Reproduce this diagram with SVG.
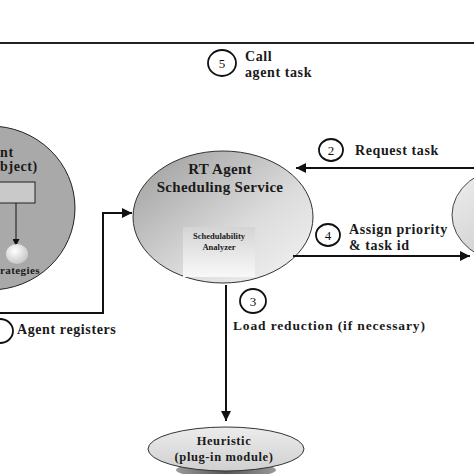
<svg xmlns="http://www.w3.org/2000/svg" width="474" height="474" viewBox="0 0 474 474">
<defs>
<style>
.t{font-family:"Liberation Serif","Times New Roman",serif;font-weight:bold;fill:#1a1a1a}
.sp{letter-spacing:0.6px}
.ln{fill:none;stroke:#111;stroke-width:2}
.num{fill:none;stroke:#111;stroke-width:1.8}
.nt{font-family:"Liberation Serif","Times New Roman",serif;font-size:13px;fill:#111;text-anchor:middle}
</style>
<linearGradient id="gRT" x1="0" y1="0" x2="1" y2="1">
<stop offset="0" stop-color="#9a9a9a"/>
<stop offset="0.6" stop-color="#dcdcdc"/>
<stop offset="1" stop-color="#f4f4f4"/>
</linearGradient>
<linearGradient id="gBox" x1="0" y1="0" x2="0" y2="1">
<stop offset="0" stop-color="#d4d4d4"/>
<stop offset="1" stop-color="#f8f8f8"/>
</linearGradient>
<linearGradient id="gR" x1="0" y1="0" x2="1" y2="1">
<stop offset="0" stop-color="#f0f0f0"/>
<stop offset="1" stop-color="#bdbdbd"/>
</linearGradient>
<linearGradient id="gH" x1="0" y1="0" x2="0" y2="1">
<stop offset="0" stop-color="#ececec"/>
<stop offset="1" stop-color="#d0d0d0"/>
</linearGradient>
<linearGradient id="gShadow" x1="0" y1="0" x2="1" y2="0">
<stop offset="0" stop-color="#9a9a9a"/>
<stop offset="0.5" stop-color="#555"/>
<stop offset="1" stop-color="#9a9a9a"/>
</linearGradient>
<radialGradient id="gBall" cx="0.4" cy="0.35" r="0.7">
<stop offset="0" stop-color="#ffffff"/>
<stop offset="1" stop-color="#c4c4c4"/>
</radialGradient>
<marker id="ah" viewBox="0 0 10 10" refX="10" refY="5" markerWidth="10" markerHeight="10" markerUnits="userSpaceOnUse" orient="auto">
<path d="M0,0 L10,5 L0,10 z" fill="#111"/>
</marker>
<marker id="ahs" viewBox="0 0 10 10" refX="10" refY="5" markerWidth="7" markerHeight="7" markerUnits="userSpaceOnUse" orient="auto">
<path d="M0,0 L10,5 L0,10 z" fill="#111"/>
</marker>
</defs>
<rect width="474" height="474" fill="#fff"/>

<g id="agent">
<ellipse cx="-10" cy="208" rx="85" ry="82" fill="#a9a9a9" stroke="#222" stroke-width="1"/>
<text class="t sp" x="0" y="157" font-size="14">nt</text>
<text class="t sp" x="0" y="171" font-size="14">bject)</text>
<rect x="-5" y="182" width="40" height="21" fill="#c9c9c9" stroke="#222" stroke-width="1"/>
<line x1="16" y1="203" x2="16" y2="246" stroke="#111" stroke-width="1" marker-end="url(#ahs)"/>
<ellipse cx="17" cy="254" rx="11" ry="10" fill="url(#gBall)"/>
<text class="t" x="0" y="274" font-size="11" letter-spacing="0.4">rategies</text>
</g>

<g id="rt">
<ellipse cx="223" cy="217" rx="90" ry="66" fill="url(#gRT)" stroke="#333" stroke-width="1"/>
<text class="t" x="220" y="174" font-size="15" text-anchor="middle" letter-spacing="0.3">RT Agent</text>
<text class="t" x="220" y="192" font-size="15" text-anchor="middle" letter-spacing="0.3">Scheduling Service</text>
<rect x="183" y="227" width="72" height="50" fill="url(#gBox)"/>
<text class="t" x="219" y="239" font-size="8.5" text-anchor="middle">Schedulability</text>
<text class="t" x="219" y="250" font-size="8.5" text-anchor="middle">Analyzer</text>
</g>

<g id="task">
<ellipse cx="512" cy="215" rx="60" ry="48" fill="url(#gR)" stroke="#444" stroke-width="1"/>
</g>

<g id="heuristic">
<ellipse cx="226" cy="470" rx="50" ry="8" fill="url(#gShadow)"/>
<ellipse cx="226" cy="449" rx="78" ry="22" fill="url(#gH)" stroke="#333" stroke-width="1"/>
<text class="t sp" x="224" y="445" font-size="12.5" text-anchor="middle">Heuristic</text>
<text class="t sp" x="224" y="461" font-size="12.5" text-anchor="middle">(plug-in module)</text>
</g>

<g id="connectors">
<line x1="0" y1="43" x2="474" y2="43" stroke="#222" stroke-width="2"/>
<ellipse class="num" cx="222" cy="63" rx="14" ry="13"/>
<text class="nt" x="222" y="68">5</text>
<text class="t sp" x="245" y="61" font-size="14">Call</text>
<text class="t sp" x="245" y="77" font-size="14">agent task</text>

<polyline class="ln" points="0,313 103,313 103,213 132,213" marker-end="url(#ah)"/>
<ellipse class="num" cx="0" cy="331" rx="13" ry="12"/>
<text class="t sp" x="17" y="334" font-size="14">Agent registers</text>

<line class="ln" x1="474" y1="168" x2="296" y2="168" marker-end="url(#ah)"/>
<ellipse class="num" cx="331" cy="150" rx="12" ry="11"/>
<text class="nt" x="331" y="155">2</text>
<text class="t sp" x="355" y="155" font-size="14">Request task</text>

<line class="ln" x1="293" y1="256" x2="470" y2="256" marker-end="url(#ah)"/>
<ellipse class="num" cx="328" cy="235" rx="12" ry="11"/>
<text class="nt" x="328" y="240">4</text>
<text class="t sp" x="349" y="234" font-size="14">Assign priority</text>
<text class="t sp" x="349" y="250" font-size="14">&amp; task id</text>

<line class="ln" x1="226" y1="285" x2="226" y2="421" marker-end="url(#ah)"/>
<ellipse class="num" cx="253" cy="301" rx="13" ry="12"/>
<text class="nt" x="253" y="306">3</text>
<text class="t" x="233" y="330" font-size="13.5" letter-spacing="0.85">Load reduction (if necessary)</text>
</g>
</svg>
